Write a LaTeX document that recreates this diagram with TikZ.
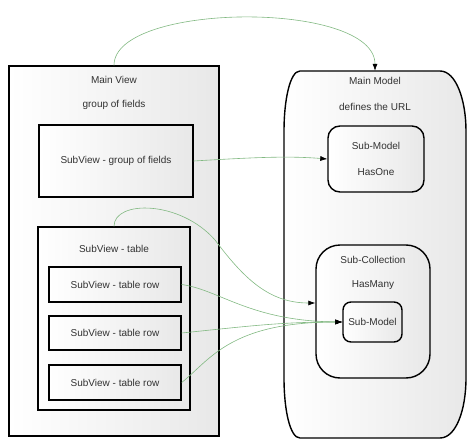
\documentclass[tikz,border=0pt]{standalone}
\usepackage{fontspec}
\setmainfont{Liberation Sans}
\usetikzlibrary{arrows.meta}
\definecolor{conn}{RGB}{130,185,130}
\definecolor{txt}{RGB}{50,50,50}
\begin{document}
\begin{tikzpicture}[x=1pt,y=-1pt,
  every node/.style={font=\fontsize{10}{12}\selectfont, text=txt},
  lbl/.style={inner sep=0pt},
  box/.style={draw=black, line width=1.4pt, left color=white, right color=black!9, inner sep=0pt},
  rbox/.style={box, rounded corners=#1},
  anchorbox/.style={inner sep=0pt},
  link/.style={draw=conn, line width=0.6pt, -{Latex[length=7pt,width=5pt,color=black]}}]
\useasboundingbox (0,0) rectangle (474,444);

% Main View
\node[box, minimum width=210pt, minimum height=370pt] (mv) at (114,251) {};
\node[lbl] (mvt) at (114,80) {Main View};
\node[lbl] (mvg) at (114,105) {group of fields};
\node[box, minimum width=154pt, minimum height=72pt] (sg) at (116,161) {};
\node[lbl] (sgt) at (116,161) {SubView - group of fields};
\node[box, minimum width=152pt, minimum height=183pt] (st) at (114,318.5) {};
\node[lbl] (stt) at (114,249) {SubView - table};
\node[box, minimum width=132pt, minimum height=35pt] (r1) at (115,284.5) {};
\node[lbl] (r1t) at (115,284.5) {SubView - table row};
\node[box, minimum width=132pt, minimum height=34pt] (r2) at (115,333) {};
\node[lbl] (r2t) at (115,333) {SubView - table row};
\node[box, minimum width=132pt, minimum height=35pt] (r3) at (115,382.5) {};
\node[lbl] (r3t) at (115,382.5) {SubView - table row};

% Main Model
\path[draw=black, line width=1.4pt, left color=white, right color=black!9]
  (300,71) -- (440,71) .. controls (456,71) and (466,100) .. (466,131) -- (466,378)
  .. controls (466,410) and (456,438) .. (440,438) -- (300,438)
  .. controls (290,438) and (284,410) .. (284,378) -- (284,131)
  .. controls (284,100) and (290,71) .. (300,71) -- cycle;
\node[anchorbox, minimum width=182pt, minimum height=367pt] (mm) at (375,254.5) {};
\node[lbl] (mmt) at (375,81) {Main Model};
\node[lbl] (mmu) at (375,107) {defines the URL};
\node[rbox=12pt, minimum width=96pt, minimum height=66pt] (ho) at (376,159) {};
\node[lbl] (hot) at (376,146) {Sub-Model};
\node[lbl] (hoh) at (376,172) {HasOne};
\node[rbox=24pt, minimum width=114pt, minimum height=133pt] (sc) at (373,311.5) {};
\node[lbl] (sct) at (373,260) {Sub-Collection};
\node[lbl] (sch) at (373,285) {HasMany};
\node[rbox=8pt, minimum width=59pt, minimum height=40pt] (sm) at (372.5,322) {};
\node[lbl] (smt) at (372.5,322) {Sub-Model};

% connectors
\draw[link] (mv.north) .. controls (114,2) and (375,0) .. (mm.north);
\draw[link] (sg.east) .. controls (260,157) and (290,156) .. (ho.west);
\draw[link] (st.north) .. controls (114,200) and (180,200) .. (215,240)
  .. controls (245,280) and (270,303) .. (sc.west |- 0,303);
\draw[link] (r1.east) .. controls (220,290) and (250,321) .. (sm.west);
\draw[link] (r2.east) .. controls (250,326) and (280,322) .. (sm.west);
\draw[link] (r3.east) .. controls (210,360) and (230,322) .. (sm.west);
\end{tikzpicture}
\end{document}
